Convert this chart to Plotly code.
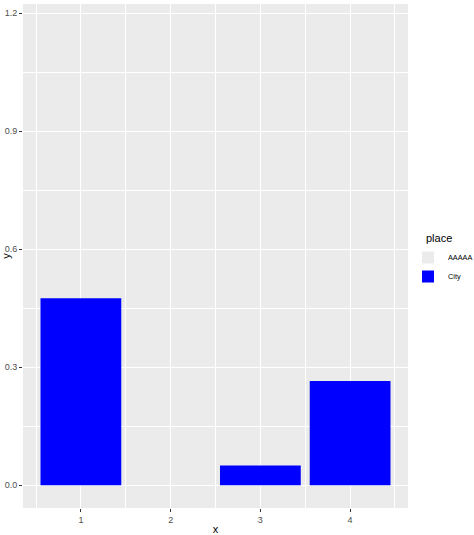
import plotly.graph_objects as go

# data
place_names = ["AAAAA", "City"]
aaaaa_x = [2]
aaaaa_y = [1.165]
city_x = [1, 3, 4]
city_y = [0.475, 0.05, 0.265]
x_ticks = [1, 2, 3, 4]
y_ticks = [0.0, 0.3, 0.6, 0.9, 1.2]
y_tick_labels = ["0.0", "0.3", "0.6", "0.9", "1.2"]
legend_title = "place"

FONT = "Liberation Sans, Arial, sans-serif"

fig = go.Figure()
# invisible (transparent) AAAAA bar that still sets the data range
fig.add_trace(go.Bar(x=aaaaa_x, y=aaaaa_y, width=0.9, name=place_names[0],
                     marker=dict(color="rgba(0,0,0,0)", line=dict(width=0)),
                     showlegend=False, legendgroup="a"))
# legend entry for AAAAA
fig.add_trace(go.Bar(x=[None], y=[None], name=place_names[0],
                     marker=dict(color="#EBEBEB", line=dict(width=0)),
                     showlegend=True, legendgroup="a"))
fig.add_trace(go.Bar(x=city_x, y=city_y, width=0.9, name=place_names[1],
                     marker=dict(color="#0000FF", line=dict(width=0)),
                     showlegend=True))

fig.update_layout(
    width=474, height=535,
    margin=dict(l=23, r=66, t=4, b=27),
    paper_bgcolor="white",
    plot_bgcolor="#EBEBEB",
    barmode="overlay",
    font=dict(family=FONT, size=9, color="#4D4D4D"),
    legend=dict(
        xref="container", yref="container",
        x=408 / 474, xanchor="left", y=(535 - 243) / 535, yanchor="top",
        font=dict(size=7.3, color="black"),
        bgcolor="rgba(0,0,0,0)",
        traceorder="normal",
        itemwidth=30,
        tracegroupgap=0,
    ),
    annotations=[dict(
        text=legend_title, xref="paper", yref="paper",
        x=(424 - 23) / 385, xanchor="left",
        y=(508 - 238) / 504, yanchor="middle",
        showarrow=False, font=dict(size=11, color="black"),
    )],
)

fig.update_xaxes(
    range=[0.355, 4.645],
    tickvals=x_ticks, ticktext=[str(v) for v in x_ticks],
    showgrid=True, gridcolor="white", gridwidth=1.1,
    minor=dict(tick0=0.5, dtick=1, showgrid=True, gridcolor="white", gridwidth=0.5),
    zeroline=False, showline=False,
    ticks="outside", ticklen=3, tickcolor="#333333", tickwidth=1,
    tickfont=dict(size=9, color="#4D4D4D"),
    title=dict(text="x", font=dict(size=11, color="black"), standoff=2),
    automargin=False,
)
fig.update_yaxes(
    range=[-0.058, 1.223],
    tickvals=y_ticks, ticktext=y_tick_labels,
    showgrid=True, gridcolor="white", gridwidth=1.1,
    minor=dict(tick0=0.15, dtick=0.3, showgrid=True, gridcolor="white", gridwidth=0.5),
    zeroline=False, showline=False,
    ticks="outside", ticklen=3, tickcolor="#333333", tickwidth=1,
    tickfont=dict(size=9, color="#4D4D4D"),
    title=dict(text="y", font=dict(size=11, color="black"), standoff=0),
    automargin=False,
)

fig.write_html("out.html", config={"displayModeBar": False},
               post_script="document.body.style.margin='0';")
